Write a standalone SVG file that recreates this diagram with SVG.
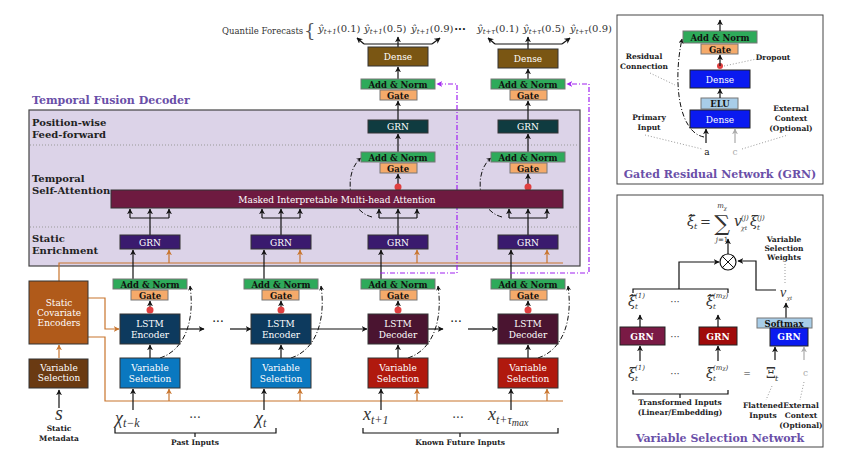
<svg xmlns="http://www.w3.org/2000/svg" width="845" height="463" viewBox="0 0 845 463">
<defs>
<marker id="ah" viewBox="0 0 10 10" refX="9" refY="5" markerWidth="5" markerHeight="5" orient="auto"><path d="M0,0L10,5L0,10L3,5z" fill="#111"/></marker>
<marker id="ao" viewBox="0 0 10 10" refX="9" refY="5" markerWidth="5" markerHeight="5" orient="auto"><path d="M0,0L10,5L0,10L3,5z" fill="#c8742c"/></marker>
<marker id="ap" viewBox="0 0 10 10" refX="9" refY="5" markerWidth="5" markerHeight="5" orient="auto"><path d="M0,0L10,5L0,10L3,5z" fill="#a020f0"/></marker>
<marker id="ag" viewBox="0 0 10 10" refX="9" refY="5" markerWidth="5" markerHeight="5" orient="auto"><path d="M0,0L10,5L0,10L3,5z" fill="#aaa"/></marker>
</defs>
<style>
text{font-family:"DejaVu Serif","Liberation Serif",serif}
.w{fill:#fff;font-size:9px;text-anchor:middle}
.b{fill:#111;font-size:8.5px;font-weight:bold;text-anchor:middle}
.lbl{fill:#222;font-size:10px;font-weight:bold}
.sm{fill:#222;font-size:7.5px;font-weight:bold;text-anchor:middle}
.m{font-family:"Liberation Serif",serif;font-style:italic;fill:#333}
.k{stroke:#111;stroke-width:1.2;fill:none}
.ka{stroke:#111;stroke-width:1.2;fill:none;marker-end:url(#ah)}
.oa{stroke:#c8742c;stroke-width:1.2;fill:none;marker-end:url(#ao)}
.o{stroke:#c8742c;stroke-width:1.2;fill:none}
.dd{stroke:#111;stroke-width:1;fill:none;stroke-dasharray:5,2,1,2;marker-end:url(#ah)}
.pp{stroke:#a020f0;stroke-width:1.2;fill:none;stroke-dasharray:5,2,1,2}
.bx{stroke:#333;stroke-width:1}
.an{fill:#2eaa5a;stroke:#777}
.gt{fill:#f5aa6a;stroke:#777}
.dot{fill:#e04040}
.gd{stroke:#999;stroke-width:1;stroke-dasharray:1,2;fill:none}
.ttl{fill:#6a4fa8;font-size:11px;font-weight:bold}
</style>
<rect width="845" height="463" fill="#fff"/>
<text class="ttl" x="32" y="104">Temporal Fusion Decoder</text>
<rect x="29" y="110" width="551" height="156" fill="#dcd3e8" stroke="#444" stroke-width="1.2"/>
<line x1="30" y1="145" x2="579" y2="145" class="gd"/>
<line x1="30" y1="227" x2="579" y2="227" class="gd"/>
<text class="lbl" x="32" y="126">Position-wise</text><text class="lbl" x="32" y="138">Feed-forward</text>
<text class="lbl" x="32" y="182">Temporal</text><text class="lbl" x="32" y="194">Self-Attention</text>
<text class="lbl" x="32" y="242">Static</text><text class="lbl" x="32" y="254">Enrichment</text>

<g id="connectors">
<path class="ka" d="M59,408V390"/>
<path class="oa" d="M59,358V345"/>
<path class="o" d="M59,281V263H563"/>
<path class="oa" d="M169,263V250"/><path class="oa" d="M300,263V250"/><path class="oa" d="M417,263V250"/><path class="oa" d="M547,263V250"/>
<path class="oa" d="M88,298H105V329H119"/>
<path class="o" d="M88,337H105V401H563"/>
<path class="oa" d="M169,401V389"/><path class="oa" d="M300,401V389"/><path class="oa" d="M417,401V389"/><path class="oa" d="M547,401V389"/>
<path class="ka" d="M133,410V389"/><path class="ka" d="M264,410V389"/><path class="ka" d="M381,410V389"/><path class="ka" d="M511,410V389"/>
<path class="ka" d="M150,358V345"/><path class="ka" d="M150,311V301"/><path class="ka" d="M133,279V250"/>
<path class="dd" d="M160,358C185,350 195,320 190,286"/>
<path class="ka" d="M281,358V345"/><path class="ka" d="M281,311V301"/><path class="ka" d="M264,279V250"/>
<path class="dd" d="M291,358C316,350 326,320 321,286"/>
<path class="ka" d="M398,358V345"/><path class="ka" d="M398,311V301"/><path class="ka" d="M381,279V250"/>
<path class="dd" d="M408,358C433,350 443,320 438,286"/>
<path class="ka" d="M528,358V345"/><path class="ka" d="M528,311V301"/><path class="ka" d="M511,279V250"/>
<path class="dd" d="M538,358C563,350 573,320 568,286"/>
<path class="ka" d="M180,329H204"/><path class="ka" d="M230,329H251"/><path class="ka" d="M311,329H367"/><path class="ka" d="M428,329H443"/><path class="ka" d="M468,329H497"/>
<path class="k" d="M150,235V218M130,218H169"/><path class="ka" d="M130,218V209"/><path class="ka" d="M150,218V209"/><path class="ka" d="M169,218V209"/>
<path class="k" d="M281,235V218M262,218H300"/><path class="ka" d="M262,218V209"/><path class="ka" d="M281,218V209"/><path class="ka" d="M300,218V209"/>
<path class="k" d="M398,235V218M379,218H417"/><path class="ka" d="M379,218V209"/><path class="ka" d="M398,218V209"/><path class="ka" d="M417,218V209"/>
<path class="k" d="M528,235V218M509,218H547"/><path class="ka" d="M509,218V209"/><path class="ka" d="M528,218V209"/><path class="ka" d="M547,218V209"/>
<path class="ka" d="M398,190V174"/><path class="ka" d="M398,152V134"/><path class="ka" d="M398,120V101"/><path class="ka" d="M398,79V67"/>
<path class="dd" d="M372,217C345,210 345,170 361,158"/>
<path class="ka" d="M528,190V174"/><path class="ka" d="M528,152V134"/><path class="ka" d="M528,120V101"/><path class="ka" d="M528,79V69"/>
<path class="dd" d="M502,217C475,210 475,170 491,158"/>
<path class="pp" d="M380,273H457V84H437" marker-end="url(#ap)"/>
<path class="pp" d="M510,273H589V84H567" marker-end="url(#ap)"/>
<path class="k" d="M398,47V44M364,44H432"/><path class="ka" d="M364,44L357,38"/><path class="ka" d="M398,44V37"/><path class="ka" d="M432,44L440,38"/>
<path class="k" d="M528,49V44M495,44H562"/><path class="ka" d="M495,44L488,38"/><path class="ka" d="M528,44V37"/><path class="ka" d="M562,44L570,38"/>
</g>

<g id="n-static-enc"><rect x="29" y="281" width="59" height="63" fill="#b05a1a" class="bx"/><text class="w" x="59" y="306">Static</text><text class="w" x="59" y="316">Covariate</text><text class="w" x="59" y="326">Encoders</text></g>
<g id="n-static-vs"><rect x="29" y="359" width="59" height="29" fill="#6a3a12" class="bx"/><text class="w" x="59" y="371">Variable</text><text class="w" x="59" y="381">Selection</text></g>
<text class="m" x="59" y="420" font-size="20" text-anchor="middle">s</text>
<text class="sm" x="59" y="431">Static</text><text class="sm" x="59" y="441">Metadata</text>

<g id="n-col1">
<rect x="113" y="279" width="74" height="10" class="an"/><text class="b" x="150" y="287.5">Add &amp; Norm</text>
<rect x="131" y="290" width="37" height="10" class="gt"/><text class="b" x="150" y="298.5">Gate</text>
<circle class="dot" cx="150" cy="310" r="3.5"/>
<rect x="120" y="314" width="60" height="30" fill="#0d3a5e" class="bx"/><text class="w" x="150" y="327">LSTM</text><text class="w" x="150" y="338">Encoder</text>
<rect x="120" y="358" width="60" height="30" fill="#0a78c0" class="bx"/><text class="w" x="150" y="371">Variable</text><text class="w" x="150" y="382">Selection</text>
<rect x="120" y="235" width="60" height="14" fill="#3a1a6e" class="bx"/><text class="w" x="150" y="245.5">GRN</text>
</g>
<g id="n-col2">
<rect x="244" y="279" width="74" height="10" class="an"/><text class="b" x="281" y="287.5">Add &amp; Norm</text>
<rect x="262" y="290" width="37" height="10" class="gt"/><text class="b" x="281" y="298.5">Gate</text>
<circle class="dot" cx="281" cy="310" r="3.5"/>
<rect x="251" y="314" width="60" height="30" fill="#0d3a5e" class="bx"/><text class="w" x="281" y="327">LSTM</text><text class="w" x="281" y="338">Encoder</text>
<rect x="251" y="358" width="60" height="30" fill="#0a78c0" class="bx"/><text class="w" x="281" y="371">Variable</text><text class="w" x="281" y="382">Selection</text>
<rect x="251" y="235" width="60" height="14" fill="#3a1a6e" class="bx"/><text class="w" x="281" y="245.5">GRN</text>
</g>
<g id="n-col3">
<rect x="361" y="279" width="74" height="10" class="an"/><text class="b" x="398" y="287.5">Add &amp; Norm</text>
<rect x="380" y="290" width="37" height="10" class="gt"/><text class="b" x="398" y="298.5">Gate</text>
<circle class="dot" cx="398" cy="310" r="3.5"/>
<rect x="368" y="314" width="60" height="30" fill="#4a1430" class="bx"/><text class="w" x="398" y="327">LSTM</text><text class="w" x="398" y="338">Decoder</text>
<rect x="368" y="358" width="60" height="30" fill="#b0190e" class="bx"/><text class="w" x="398" y="371">Variable</text><text class="w" x="398" y="382">Selection</text>
<rect x="368" y="235" width="60" height="14" fill="#3a1a6e" class="bx"/><text class="w" x="398" y="245.5">GRN</text>
<rect x="361" y="152" width="74" height="10" class="an"/><text class="b" x="398" y="160.5">Add &amp; Norm</text>
<rect x="380" y="163" width="37" height="10" class="gt"/><text class="b" x="398" y="171.5">Gate</text>
<circle class="dot" cx="398" cy="187" r="3.5"/>
<rect x="368" y="120" width="60" height="13" fill="#0f3b40" class="bx"/><text class="w" x="398" y="130">GRN</text>
<rect x="361" y="79" width="74" height="10" class="an"/><text class="b" x="398" y="87.5">Add &amp; Norm</text>
<rect x="380" y="90" width="37" height="10" class="gt"/><text class="b" x="398" y="98.5">Gate</text>
<rect x="368" y="47" width="60" height="19" fill="#7a5613" class="bx"/><text class="w" x="398" y="60">Dense</text>
</g>
<g id="n-col4">
<rect x="491" y="279" width="74" height="10" class="an"/><text class="b" x="528" y="287.5">Add &amp; Norm</text>
<rect x="510" y="290" width="37" height="10" class="gt"/><text class="b" x="528" y="298.5">Gate</text>
<circle class="dot" cx="528" cy="310" r="3.5"/>
<rect x="498" y="314" width="60" height="30" fill="#4a1430" class="bx"/><text class="w" x="528" y="327">LSTM</text><text class="w" x="528" y="338">Decoder</text>
<rect x="498" y="358" width="60" height="30" fill="#b0190e" class="bx"/><text class="w" x="528" y="371">Variable</text><text class="w" x="528" y="382">Selection</text>
<rect x="498" y="235" width="60" height="14" fill="#3a1a6e" class="bx"/><text class="w" x="528" y="245.5">GRN</text>
<rect x="491" y="152" width="74" height="10" class="an"/><text class="b" x="528" y="160.5">Add &amp; Norm</text>
<rect x="510" y="163" width="37" height="10" class="gt"/><text class="b" x="528" y="171.5">Gate</text>
<circle class="dot" cx="528" cy="187" r="3.5"/>
<rect x="498" y="120" width="60" height="13" fill="#0f3b40" class="bx"/><text class="w" x="528" y="130">GRN</text>
<rect x="491" y="79" width="74" height="10" class="an"/><text class="b" x="528" y="87.5">Add &amp; Norm</text>
<rect x="510" y="90" width="37" height="10" class="gt"/><text class="b" x="528" y="98.5">Gate</text>
<rect x="498" y="49" width="60" height="19" fill="#7a5613" class="bx"/><text class="w" x="528" y="62">Dense</text>
</g>
<g id="n-attn"><rect x="111" y="190" width="452" height="18" fill="#6e1a40" class="bx"/><text class="w" x="337" y="202.5">Masked Interpretable Multi-head Attention</text></g>

<text x="218" y="326" font-size="12" fill="#111" font-family="Liberation Sans,sans-serif" text-anchor="middle">···</text>
<text x="456" y="326" font-size="12" fill="#111" font-family="Liberation Sans,sans-serif" text-anchor="middle">···</text>

<text class="m" x="115" y="424" font-size="18">χ<tspan font-size="12" dy="3">t−k</tspan></text>
<text x="195" y="422" font-size="12" fill="#333" text-anchor="middle">···</text>
<text class="m" x="255" y="424" font-size="18">χ<tspan font-size="12" dy="3">t</tspan></text>
<text class="m" x="363" y="420" font-size="18">x<tspan font-size="12" dy="4">t+1</tspan></text>
<text x="458" y="422" font-size="12" fill="#333" text-anchor="middle">···</text>
<text class="m" x="488" y="420" font-size="18">x<tspan font-size="12" dy="4">t+τ</tspan><tspan font-size="10" dy="2">max</tspan></text>
<path class="k" d="M115,428V433H276V428M195,433V437" stroke="#555"/>
<text class="sm" x="195" y="445" font-size="8">Past Inputs</text>
<path class="k" d="M363,428V433H558V428M460,433V437" stroke="#555"/>
<text class="sm" x="460" y="445" font-size="8">Known Future Inputs</text>

<text x="222" y="34" font-size="8.5" fill="#333">Quantile Forecasts</text>
<text x="304" y="37" font-size="18" fill="#555" font-family="Liberation Serif,serif">{</text>
<g class="m" font-size="10">
<text x="318" y="32">ŷ<tspan font-size="7" dy="2">t+1</tspan><tspan dy="-2" font-style="normal">(0.1)</tspan></text>
<text x="364" y="32">ŷ<tspan font-size="7" dy="2">t+1</tspan><tspan dy="-2" font-style="normal">(0.5)</tspan></text>
<text x="411" y="32">ŷ<tspan font-size="7" dy="2">t+1</tspan><tspan dy="-2" font-style="normal">(0.9)</tspan></text>
<text x="477" y="32">ŷ<tspan font-size="7" dy="2">t+τ</tspan><tspan dy="-2" font-style="normal">(0.1)</tspan></text>
<text x="523" y="32">ŷ<tspan font-size="7" dy="2">t+τ</tspan><tspan dy="-2" font-style="normal">(0.5)</tspan></text>
<text x="570" y="32">ŷ<tspan font-size="7" dy="2">t+τ</tspan><tspan dy="-2" font-style="normal">(0.9)</tspan></text>
</g>
<text x="460" y="33" font-size="11" font-weight="bold" fill="#111" text-anchor="middle">···</text>

<g id="grn-panel">
<rect x="617" y="15" width="206" height="169" fill="#fff" stroke="#444"/>
<rect x="683" y="31" width="74" height="12" class="an"/><text class="b" x="720" y="40.5" font-size="9">Add &amp; Norm</text>
<rect x="701" y="44" width="37" height="10" class="gt"/><text class="b" x="720" y="52.5">Gate</text>
<circle class="dot" cx="720" cy="66" r="3"/>
<rect x="690" y="70" width="60" height="18" fill="#0a1af0" stroke="#222"/><text class="w" x="720" y="82.5">Dense</text>
<rect x="701" y="98" width="37" height="11" fill="#a8cde8" stroke="#777"/><text class="b" x="720" y="106.5" font-weight="normal">ELU</text>
<rect x="690" y="110" width="60" height="18" fill="#0a1af0" stroke="#222"/><text class="w" x="720" y="122.5">Dense</text>
<path class="ka" d="M720,31V20"/><path class="ka" d="M720,66V55"/><path class="ka" d="M720,98V89"/>
<path class="ka" d="M706,143V129"/><path stroke="#aaa" stroke-width="1.2" fill="none" marker-end="url(#ag)" d="M735,143V129"/>
<path class="dd" d="M704,137C678,132 673,80 682,39"/>
<text x="707" y="155" font-size="9" fill="#111" text-anchor="middle">a</text>
<text x="735" y="155" font-size="9" fill="#aaa" text-anchor="middle">c</text>
<text class="sm" x="644" y="59">Residual</text><text class="sm" x="644" y="69">Connection</text>
<text class="sm" x="773" y="60">Dropout</text>
<text class="sm" x="649" y="120">Primary</text><text class="sm" x="649" y="130">Input</text>
<text class="sm" x="791" y="111">External</text><text class="sm" x="791" y="121">Context</text><text class="sm" x="791" y="131">(Optional)</text>
<path class="gd" d="M650,73L675,85M724,66L766,57M645,135L702,149M742,149L788,135"/>
<text class="ttl" x="720" y="178" text-anchor="middle" font-size="10">Gated Residual Network (GRN)</text>
</g>

<g id="vsn-panel">
<rect x="617" y="195" width="206" height="252" fill="#fff" stroke="#444"/>
<g class="m">
<text x="687" y="226" font-size="14">ξ̃</text><text x="694" y="229" font-size="8">t</text>
<text x="700" y="226" font-size="13" font-style="normal">=</text>
<text x="722" y="231" font-size="22" font-style="normal" text-anchor="middle">∑</text>
<text x="722" y="208" font-size="7" text-anchor="middle">m<tspan font-size="5" dy="2">χ</tspan></text>
<text x="722" y="242" font-size="7" text-anchor="middle">j<tspan font-style="normal">=1</tspan></text>
<text x="734" y="226" font-size="14">v</text><text x="741" y="220" font-size="7">(j)</text><text x="741" y="230" font-size="6">χt</text>
<text x="750" y="226" font-size="14">ξ</text><text x="757" y="220" font-size="7">(j)</text><text x="757" y="230" font-size="7">t</text>
</g>
<circle cx="728" cy="262" r="8" fill="#fff" stroke="#111" stroke-width="1.2"/>
<path d="M722,256L734,268M734,256L722,268" stroke="#111"/>
<path class="ka" d="M728,254V239"/>
<path class="ka" d="M679,289V262H719"/>
<path class="k" d="M633,293V289H728V293" stroke="#555"/>
<path class="ka" d="M776,290H756V261H738"/>
<path class="ka" d="M786,319V303"/>
<text class="m" x="780" y="297" font-size="14">v</text><text class="m" x="787" y="300" font-size="7">χt</text>
<text class="sm" x="784" y="242">Variable</text><text class="sm" x="784" y="251">Selection</text><text class="sm" x="784" y="260">Weights</text>
<path class="gd" d="M785,264V284"/>
<g class="m">
<text x="628" y="306" font-size="14">ξ̃</text><text x="635" y="298" font-size="7">(1)</text><text x="635" y="309" font-size="7">t</text>
<text x="706" y="306" font-size="14">ξ̃</text><text x="713" y="298" font-size="7">(m<tspan font-size="5">χ</tspan>)</text><text x="713" y="309" font-size="7">t</text>
<text x="628" y="378" font-size="14">ξ</text><text x="635" y="370" font-size="7">(1)</text><text x="635" y="381" font-size="7">t</text>
<text x="706" y="378" font-size="14">ξ</text><text x="713" y="370" font-size="7">(m<tspan font-size="5">χ</tspan>)</text><text x="713" y="381" font-size="7">t</text>
<text x="766" y="378" font-size="14" font-style="normal">Ξ</text><text x="775" y="381" font-size="8">t</text>
<text x="803" y="376" font-size="9" fill="#aaa" font-style="normal">c</text>
</g>
<text x="675" y="305" font-size="10" fill="#333" text-anchor="middle">···</text>
<text x="675" y="340" font-size="10" fill="#333" text-anchor="middle">···</text>
<text x="675" y="377" font-size="10" fill="#333" text-anchor="middle">···</text>
<text x="747" y="377" font-size="9" fill="#333" text-anchor="middle">=</text>
<rect x="620" y="327" width="45" height="18" fill="#7a1a45" stroke="#222"/><text class="w" x="642" y="339.5" font-weight="bold">GRN</text>
<rect x="699" y="327" width="38" height="18" fill="#a00a0a" stroke="#222"/><text class="w" x="718" y="339.5" font-weight="bold">GRN</text>
<rect x="757" y="318" width="55" height="10" fill="#a8cde8" stroke="#777"/><text class="b" x="784" y="326.5">Softmax</text>
<rect x="770" y="328" width="38" height="18" fill="#0a1af0" stroke="#222"/><text class="w" x="789" y="340" font-weight="bold">GRN</text>
<path class="ka" d="M640,327V315"/><path class="ka" d="M718,327V315"/>
<path class="ka" d="M640,361V346"/><path class="ka" d="M718,361V346"/>
<path class="ka" d="M775,360V347"/><path stroke="#aaa" stroke-width="1.2" fill="none" marker-end="url(#ag)" d="M804,360V347"/>
<path class="k" d="M633,390V394H728V390M680,394V398" stroke="#555"/>
<text class="sm" x="680" y="405">Transformed Inputs</text><text class="sm" x="680" y="415">(Linear/Embedding)</text>
<path class="gd" d="M772,386L766,400M804,382L800,400"/>
<text class="sm" x="763" y="408" font-size="7">Flattened</text><text class="sm" x="763" y="418" font-size="7">Inputs</text>
<text class="sm" x="801" y="408" font-size="7">External</text><text class="sm" x="801" y="418" font-size="7">Context</text><text class="sm" x="801" y="428" font-size="7">(Optional)</text>
<text class="ttl" x="720" y="442" text-anchor="middle" font-size="10">Variable Selection Network</text>
</g>
</svg>
